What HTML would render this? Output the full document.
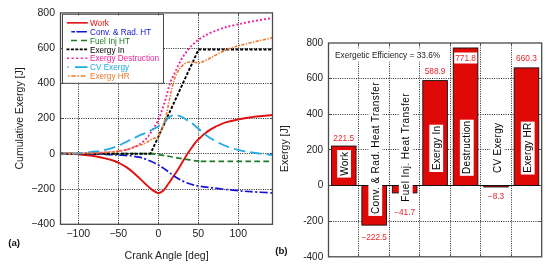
<!DOCTYPE html>
<html><head><meta charset="utf-8"><style>
html,body{margin:0;padding:0;background:#fff;width:550px;height:265px;overflow:hidden}
svg{display:block;will-change:transform;font-family:"Liberation Sans",sans-serif}
</style></head><body>
<svg width="550" height="265" viewBox="0 0 550 265">
<rect width="550" height="265" fill="#fff"/>
<g stroke="#262626" stroke-width="1" stroke-dasharray="1 1.3" fill="none">
<line x1="78.50" y1="12.90" x2="78.50" y2="224.30"/>
<line x1="118.50" y1="12.90" x2="118.50" y2="224.30"/>
<line x1="158.50" y1="12.90" x2="158.50" y2="224.30"/>
<line x1="198.50" y1="12.90" x2="198.50" y2="224.30"/>
<line x1="238.50" y1="12.90" x2="238.50" y2="224.30"/>
<line x1="60.50" y1="48.50" x2="272.50" y2="48.50"/>
<line x1="60.50" y1="83.50" x2="272.50" y2="83.50"/>
<line x1="60.50" y1="118.50" x2="272.50" y2="118.50"/>
<line x1="60.50" y1="153.50" x2="272.50" y2="153.50"/>
<line x1="60.50" y1="189.50" x2="272.50" y2="189.50"/>
</g>
<defs><clipPath id="cl"><rect x="60.50" y="12.90" width="212.00" height="211.40"/></clipPath></defs>
<g clip-path="url(#cl)" fill="none" stroke-linejoin="round">
<path d="M60.50,153.70 C62.08,153.72 67.08,153.72 70.00,153.80 C72.92,153.88 75.50,154.00 78.00,154.20 C80.50,154.40 82.17,154.65 85.00,155.00 C87.83,155.35 91.67,155.75 95.00,156.30 C98.33,156.85 101.75,157.52 105.00,158.30 C108.25,159.08 112.00,160.13 114.50,161.00 C117.00,161.87 117.97,162.43 120.00,163.50 C122.03,164.57 124.58,165.98 126.70,167.40 C128.82,168.82 130.42,170.05 132.70,172.00 C134.98,173.95 137.83,176.70 140.40,179.10 C142.97,181.50 145.97,184.48 148.10,186.40 C150.23,188.32 151.55,189.50 153.20,190.60 C154.85,191.70 156.53,192.83 158.00,193.00 C159.47,193.17 160.83,192.33 162.00,191.60 C163.17,190.87 164.00,189.82 165.00,188.60 C166.00,187.38 167.00,185.73 168.00,184.30 C169.00,182.87 170.00,181.45 171.00,180.00 C172.00,178.55 172.83,177.37 174.00,175.60 C175.17,173.83 176.83,171.27 178.00,169.40 C179.17,167.53 180.00,166.07 181.00,164.40 C182.00,162.73 182.83,161.30 184.00,159.40 C185.17,157.50 186.67,155.03 188.00,153.00 C189.33,150.97 190.50,149.27 192.00,147.20 C193.50,145.13 195.40,142.40 197.00,140.60 C198.60,138.80 200.27,137.58 201.60,136.40 C202.93,135.22 203.62,134.58 205.00,133.50 C206.38,132.42 208.40,130.90 209.90,129.90 C211.40,128.90 212.65,128.23 214.00,127.50 C215.35,126.77 215.92,126.38 218.00,125.50 C220.08,124.62 223.17,123.20 226.50,122.20 C229.83,121.20 233.85,120.33 238.00,119.50 C242.15,118.67 247.40,117.78 251.40,117.20 C255.40,116.62 258.48,116.37 262.00,116.00 C265.52,115.63 270.75,115.17 272.50,115.00" stroke="#e0100e" stroke-width="1.90"/>
<path d="M60.50,153.70 C67.08,153.75 92.58,153.90 100.00,154.00 C107.42,154.10 102.67,154.17 105.00,154.30 C107.33,154.43 111.50,154.67 114.00,154.80 C116.50,154.93 117.50,154.95 120.00,155.10 C122.50,155.25 125.83,155.37 129.00,155.70 C132.17,156.03 136.33,156.57 139.00,157.10 C141.67,157.63 142.83,158.12 145.00,158.90 C147.17,159.68 149.83,160.82 152.00,161.80 C154.17,162.78 156.33,163.88 158.00,164.80 C159.67,165.72 160.67,166.43 162.00,167.30 C163.33,168.17 164.67,169.07 166.00,170.00 C167.33,170.93 168.67,171.90 170.00,172.90 C171.33,173.90 172.33,174.87 174.00,176.00 C175.67,177.13 177.67,178.48 180.00,179.70 C182.33,180.92 185.50,182.35 188.00,183.30 C190.50,184.25 192.33,184.82 195.00,185.40 C197.67,185.98 201.17,186.40 204.00,186.80 C206.83,187.20 208.50,187.37 212.00,187.80 C215.50,188.23 220.67,188.92 225.00,189.40 C229.33,189.88 233.67,190.32 238.00,190.70 C242.33,191.08 245.25,191.33 251.00,191.70 C256.75,192.07 268.92,192.70 272.50,192.90" stroke="#1414d6" stroke-width="1.70" stroke-dasharray="8 2.4 2 2.4"/>
<path d="M60.50,153.70 C75.08,153.70 132.75,153.67 148.00,153.70 C163.25,153.73 150.33,153.77 152.00,153.90 C153.67,154.03 156.00,154.23 158.00,154.50 C160.00,154.77 162.00,155.17 164.00,155.50 C166.00,155.83 167.83,156.12 170.00,156.50 C172.17,156.88 174.50,157.37 177.00,157.80 C179.50,158.23 182.33,158.65 185.00,159.10 C187.67,159.55 190.50,160.15 193.00,160.50 C195.50,160.85 197.83,161.07 200.00,161.20 C202.17,161.33 193.92,161.28 206.00,161.30 C218.08,161.32 261.42,161.30 272.50,161.30" stroke="#1d7a26" stroke-width="1.70" stroke-dasharray="5.6 3.3" stroke-dashoffset="1.50"/>
<path d="M60.50,153.70 L150.50,153.70 L198.50,49.50 L272.50,49.50" stroke="#000" stroke-width="1.90" stroke-dasharray="3 1.65"/>
<path d="M60.50,153.70 C63.75,153.67 73.42,153.65 80.00,153.50 C86.58,153.35 95.00,153.03 100.00,152.80 C105.00,152.57 106.83,152.38 110.00,152.10 C113.17,151.82 116.67,151.40 119.00,151.10 C121.33,150.80 122.17,150.67 124.00,150.30 C125.83,149.93 128.17,149.45 130.00,148.90 C131.83,148.35 133.50,147.72 135.00,147.00 C136.50,146.28 137.67,145.47 139.00,144.60 C140.33,143.73 141.83,142.73 143.00,141.80 C144.17,140.87 145.08,139.97 146.00,139.00 C146.92,138.03 147.67,137.12 148.50,136.00 C149.33,134.88 150.25,133.43 151.00,132.30 C151.75,131.17 152.33,130.25 153.00,129.20 C153.67,128.15 154.33,127.07 155.00,126.00 C155.67,124.93 156.38,123.88 157.00,122.80 C157.62,121.72 158.20,120.63 158.70,119.50 C159.20,118.37 159.53,117.33 160.00,116.00 C160.47,114.67 161.00,112.97 161.50,111.50 C162.00,110.03 162.48,108.70 163.00,107.20 C163.52,105.70 164.10,104.12 164.60,102.50 C165.10,100.88 165.55,99.08 166.00,97.50 C166.45,95.92 166.87,94.58 167.30,93.00 C167.73,91.42 168.15,89.58 168.60,88.00 C169.05,86.42 169.52,84.93 170.00,83.50 C170.48,82.07 170.92,80.77 171.50,79.40 C172.08,78.03 172.83,76.65 173.50,75.30 C174.17,73.95 174.83,72.68 175.50,71.30 C176.17,69.92 176.58,68.88 177.50,67.00 C178.42,65.12 180.00,61.83 181.00,60.00 C182.00,58.17 182.67,57.25 183.50,56.00 C184.33,54.75 185.17,53.63 186.00,52.50 C186.83,51.37 187.67,50.23 188.50,49.20 C189.33,48.17 190.08,47.25 191.00,46.30 C191.92,45.35 192.97,44.43 194.00,43.50 C195.03,42.57 195.57,41.90 197.20,40.70 C198.83,39.50 201.23,37.77 203.80,36.30 C206.37,34.83 209.17,33.35 212.60,31.90 C216.03,30.45 220.23,28.85 224.40,27.60 C228.57,26.35 232.70,25.48 237.60,24.40 C242.50,23.32 247.98,22.17 253.80,21.10 C259.62,20.03 269.38,18.52 272.50,18.00" stroke="#f0209a" stroke-width="1.90" stroke-dasharray="1.9 2.1"/>
<path d="M60.50,153.70 C62.58,153.68 69.75,153.68 73.00,153.60 C76.25,153.52 77.67,153.38 80.00,153.20 C82.33,153.02 84.33,152.78 87.00,152.50 C89.67,152.22 93.33,151.85 96.00,151.50 C98.67,151.15 100.33,150.97 103.00,150.40 C105.67,149.83 109.50,148.87 112.00,148.10 C114.50,147.33 115.83,146.73 118.00,145.80 C120.17,144.87 122.67,143.63 125.00,142.50 C127.33,141.37 129.67,140.15 132.00,139.00 C134.33,137.85 136.67,136.63 139.00,135.60 C141.33,134.57 144.00,133.70 146.00,132.80 C148.00,131.90 149.33,131.03 151.00,130.20 C152.67,129.37 154.33,128.70 156.00,127.80 C157.67,126.90 159.50,125.80 161.00,124.80 C162.50,123.80 163.75,122.97 165.00,121.80 C166.25,120.63 167.17,118.87 168.50,117.80 C169.83,116.73 171.42,115.77 173.00,115.40 C174.58,115.03 176.50,115.33 178.00,115.60 C179.50,115.87 180.67,116.37 182.00,117.00 C183.33,117.63 184.17,118.23 186.00,119.40 C187.83,120.57 190.40,122.00 193.00,124.00 C195.60,126.00 199.33,129.47 201.60,131.40 C203.87,133.33 205.03,134.40 206.60,135.60 C208.17,136.80 209.07,137.45 211.00,138.60 C212.93,139.75 215.33,141.12 218.20,142.50 C221.07,143.88 224.60,145.60 228.20,146.90 C231.80,148.20 235.93,149.38 239.80,150.30 C243.67,151.22 247.70,151.82 251.40,152.40 C255.10,152.98 258.48,153.37 262.00,153.80 C265.52,154.23 270.75,154.80 272.50,155.00" stroke="#22aae6" stroke-width="1.80" stroke-dasharray="11.5 5" stroke-dashoffset="5.60"/>
<path d="M60.50,153.70 C63.75,153.67 73.42,153.68 80.00,153.50 C86.58,153.32 94.67,152.85 100.00,152.60 C105.33,152.35 108.67,152.28 112.00,152.00 C115.33,151.72 117.33,151.37 120.00,150.90 C122.67,150.43 125.50,149.92 128.00,149.20 C130.50,148.48 132.83,147.33 135.00,146.60 C137.17,145.87 139.33,145.33 141.00,144.80 C142.67,144.27 143.50,144.15 145.00,143.40 C146.50,142.65 148.50,141.17 150.00,140.30 C151.50,139.43 152.80,138.57 154.00,138.20 C155.20,137.83 156.27,138.77 157.20,138.10 C158.13,137.43 158.87,135.72 159.60,134.20 C160.33,132.68 160.95,130.70 161.60,129.00 C162.25,127.30 162.90,125.67 163.50,124.00 C164.10,122.33 164.68,120.75 165.20,119.00 C165.72,117.25 166.17,115.33 166.60,113.50 C167.03,111.67 167.37,110.08 167.80,108.00 C168.23,105.92 168.77,103.08 169.20,101.00 C169.63,98.92 170.02,97.33 170.40,95.50 C170.78,93.67 171.13,91.67 171.50,90.00 C171.87,88.33 172.18,87.17 172.60,85.50 C173.02,83.83 173.43,81.75 174.00,80.00 C174.57,78.25 175.28,76.57 176.00,75.00 C176.72,73.43 177.55,71.82 178.30,70.60 C179.05,69.38 179.63,68.70 180.50,67.70 C181.37,66.70 182.42,65.45 183.50,64.60 C184.58,63.75 185.67,63.05 187.00,62.60 C188.33,62.15 190.00,61.92 191.50,61.90 C193.00,61.88 194.67,62.33 196.00,62.50 C197.33,62.67 198.33,63.05 199.50,62.90 C200.67,62.75 201.58,62.22 203.00,61.60 C204.42,60.98 206.33,60.03 208.00,59.20 C209.67,58.37 211.17,57.58 213.00,56.60 C214.83,55.62 217.10,54.28 219.00,53.30 C220.90,52.32 222.40,51.57 224.40,50.70 C226.40,49.83 228.55,48.95 231.00,48.10 C233.45,47.25 235.30,46.62 239.10,45.60 C242.90,44.58 248.23,43.32 253.80,42.00 C259.37,40.68 269.38,38.42 272.50,37.70" stroke="#f07828" stroke-width="1.60" stroke-dasharray="3.2 1.4 1.3 1.4"/>
</g>
<rect x="62.5" y="14.3" width="101" height="69" fill="#fff" stroke="#4a4a4a" stroke-width="1"/>
<line x1="66.80" y1="22.85" x2="87.80" y2="22.85" stroke="#e0100e" stroke-width="1.6"/>
<text x="90" y="25.95" fill="#e0100e" font-size="8.2">Work</text>
<line x1="71.30" y1="31.70" x2="87.80" y2="31.70" stroke="#1414d6" stroke-width="1.6" stroke-dasharray="3.7 1.4 10.5 1.4"/>
<text x="90" y="34.80" fill="#1414d6" font-size="8.2">Conv. &amp; Rad. HT</text>
<line x1="71.00" y1="40.55" x2="87.80" y2="40.55" stroke="#1d7a26" stroke-width="1.6" stroke-dasharray="6 4"/>
<text x="90" y="43.65" fill="#1d7a26" font-size="8.2">Fuel Inj HT</text>
<line x1="66.50" y1="49.40" x2="88.40" y2="49.40" stroke="#000" stroke-width="1.6" stroke-dasharray="3 1.4"/>
<text x="90" y="52.50" fill="#000" font-size="8.2">Exergy In</text>
<line x1="67.00" y1="58.25" x2="87.80" y2="58.25" stroke="#f0209a" stroke-width="1.6" stroke-dasharray="2 2.6"/>
<text x="90" y="61.35" fill="#f0209a" font-size="8.2">Exergy Destruction</text>
<line x1="67.30" y1="67.10" x2="87.80" y2="67.10" stroke="#22aae6" stroke-width="1.6" stroke-dasharray="1.2 6.5 12.5 6"/>
<text x="90" y="70.20" fill="#22aae6" font-size="8.2">CV Exergy</text>
<line x1="68.00" y1="75.95" x2="85.30" y2="75.95" stroke="#f07828" stroke-width="1.6" stroke-dasharray="1.6 1.7 4.6 1.5"/>
<text x="90" y="79.05" fill="#f07828" font-size="8.2">Exergy HR</text>
<rect x="60.50" y="12.90" width="212.00" height="211.40" fill="none" stroke="#4a4a4a" stroke-width="1.3"/>
<path d="M78.50,12.90v2.5M78.50,224.30v-2.5M118.50,12.90v2.5M118.50,224.30v-2.5M158.50,12.90v2.5M158.50,224.30v-2.5M198.50,12.90v2.5M198.50,224.30v-2.5M238.50,12.90v2.5M238.50,224.30v-2.5M60.50,48.50h2.5M272.50,48.50h-2.5M60.50,83.50h2.5M272.50,83.50h-2.5M60.50,118.50h2.5M272.50,118.50h-2.5M60.50,153.50h2.5M272.50,153.50h-2.5M60.50,189.50h2.5M272.50,189.50h-2.5" stroke="#4a4a4a" stroke-width="1" fill="none"/>
<text x="55" y="15.64" text-anchor="end" font-size="10.5" fill="#222">800</text>
<text x="55" y="50.88" text-anchor="end" font-size="10.5" fill="#222">600</text>
<text x="55" y="86.12" text-anchor="end" font-size="10.5" fill="#222">400</text>
<text x="55" y="121.36" text-anchor="end" font-size="10.5" fill="#222">200</text>
<text x="55" y="156.60" text-anchor="end" font-size="10.5" fill="#222">0</text>
<text x="55" y="191.84" text-anchor="end" font-size="10.5" fill="#222">−200</text>
<text x="55" y="227.08" text-anchor="end" font-size="10.5" fill="#222">−400</text>
<text x="78.30" y="236.6" text-anchor="middle" font-size="10.5" fill="#222">−100</text>
<text x="118.30" y="236.6" text-anchor="middle" font-size="10.5" fill="#222">−50</text>
<text x="158.30" y="236.6" text-anchor="middle" font-size="10.5" fill="#222">0</text>
<text x="198.30" y="236.6" text-anchor="middle" font-size="10.5" fill="#222">50</text>
<text x="238.30" y="236.6" text-anchor="middle" font-size="10.5" fill="#222">100</text>
<text x="166.6" y="259.4" text-anchor="middle" font-size="10.6" fill="#222">Crank Angle [deg]</text>
<text transform="translate(22.6,118.4) rotate(-90)" text-anchor="middle" font-size="10.5" fill="#222">Cumulative Exergy [J]</text>
<text x="8.2" y="246.1" font-size="9.7" font-weight="bold" fill="#111">(a)</text>
<g stroke="#262626" stroke-width="1" stroke-dasharray="1 1.3" fill="none">
<line x1="358.50" y1="43.00" x2="358.50" y2="256.80"/>
<line x1="389.50" y1="43.00" x2="389.50" y2="256.80"/>
<line x1="419.50" y1="43.00" x2="419.50" y2="256.80"/>
<line x1="450.50" y1="43.00" x2="450.50" y2="256.80"/>
<line x1="480.50" y1="43.00" x2="480.50" y2="256.80"/>
<line x1="511.50" y1="43.00" x2="511.50" y2="256.80"/>
<line x1="328.50" y1="78.50" x2="541.70" y2="78.50"/>
<line x1="328.50" y1="114.50" x2="541.70" y2="114.50"/>
<line x1="328.50" y1="149.50" x2="541.70" y2="149.50"/>
<line x1="328.50" y1="221.50" x2="541.70" y2="221.50"/>
</g>
<rect x="331.43" y="146.04" width="24.60" height="39.46" fill="#de0806" stroke="#111" stroke-width="0.9"/>
<rect x="361.89" y="185.50" width="24.60" height="39.64" fill="#de0806" stroke="#111" stroke-width="0.9"/>
<rect x="392.34" y="185.50" width="24.60" height="7.43" fill="#de0806" stroke="#111" stroke-width="0.9"/>
<rect x="422.80" y="80.58" width="24.60" height="104.92" fill="#de0806" stroke="#111" stroke-width="0.9"/>
<rect x="453.26" y="47.99" width="24.60" height="137.51" fill="#de0806" stroke="#111" stroke-width="0.9"/>
<rect x="483.71" y="185.50" width="24.60" height="1.48" fill="#de0806" stroke="#111" stroke-width="0.9"/>
<rect x="514.17" y="67.86" width="24.60" height="117.64" fill="#de0806" stroke="#111" stroke-width="0.9"/>
<line x1="328.50" y1="185.50" x2="541.70" y2="185.50" stroke="#111" stroke-width="1.1"/>
<rect x="337.18" y="150.10" width="13.8" height="27.50" fill="#fff"/>
<text transform="translate(344.28,163.90) rotate(-90)" x="0" y="3.58" text-anchor="middle" font-size="10.00" textLength="23.60" lengthAdjust="spacing" fill="#000">Work</text>
<rect x="368.39" y="81.30" width="13.8" height="134.60" fill="#fff"/>
<text transform="translate(374.99,148.25) rotate(-90)" x="0" y="3.58" text-anchor="middle" font-size="10.00" textLength="131.50" lengthAdjust="spacing" fill="#000">Conv. &amp; Rad. Heat Transfer</text>
<rect x="398.84" y="92.30" width="13.8" height="111.40" fill="#fff"/>
<text transform="translate(405.44,147.65) rotate(-90)" x="0" y="3.58" text-anchor="middle" font-size="10.00" textLength="108.30" lengthAdjust="spacing" fill="#000">Fuel Inj. Heat Transfer</text>
<rect x="429.35" y="124.70" width="13.8" height="47.30" fill="#fff"/>
<text transform="translate(435.95,148.00) rotate(-90)" x="0" y="3.58" text-anchor="middle" font-size="10.00" textLength="44.20" lengthAdjust="spacing" fill="#000">Exergy In</text>
<rect x="459.86" y="119.70" width="13.8" height="56.10" fill="#fff"/>
<text transform="translate(466.46,147.40) rotate(-90)" x="0" y="3.58" text-anchor="middle" font-size="10.00" textLength="53.00" lengthAdjust="spacing" fill="#000">Destruction</text>
<rect x="490.31" y="121.70" width="13.8" height="53.30" fill="#fff"/>
<text transform="translate(496.91,148.00) rotate(-90)" x="0" y="3.58" text-anchor="middle" font-size="10.00" textLength="50.20" lengthAdjust="spacing" fill="#000">CV Exergy</text>
<rect x="520.82" y="121.65" width="13.8" height="52.90" fill="#fff"/>
<text transform="translate(527.42,147.75) rotate(-90)" x="0" y="3.58" text-anchor="middle" font-size="10.00" textLength="49.80" lengthAdjust="spacing" fill="#000">Exergy HR</text>
<text x="343.73" y="140.50" text-anchor="middle" font-size="8.3" fill="#e8262a">221.5</text>
<text x="374.19" y="239.50" text-anchor="middle" font-size="8.3" fill="#e8262a">−222.5</text>
<text x="404.64" y="215.00" text-anchor="middle" font-size="8.3" fill="#e8262a">−41.7</text>
<text x="435.10" y="73.60" text-anchor="middle" font-size="8.3" fill="#e8262a">588.9</text>
<rect x="454.2" y="52.5" width="23" height="11" fill="#fff"/>
<text x="465.56" y="61.00" text-anchor="middle" font-size="8.3" fill="#e8262a">771.8</text>
<text x="496.01" y="199.00" text-anchor="middle" font-size="8.3" fill="#e8262a">−8.3</text>
<text x="526.47" y="61.20" text-anchor="middle" font-size="8.3" fill="#e8262a">660.3</text>
<rect x="333" y="48.5" width="109" height="13" fill="#fff"/>
<text x="335" y="57.8" font-size="8.3" fill="#222">Exergetic Efficiency = 33.6%</text>
<rect x="328.50" y="43.00" width="213.20" height="213.80" fill="none" stroke="#4a4a4a" stroke-width="1.3"/>
<path d="M358.50,43.00v2.5M358.50,256.80v-2.5M389.50,43.00v2.5M389.50,256.80v-2.5M419.50,43.00v2.5M419.50,256.80v-2.5M450.50,43.00v2.5M450.50,256.80v-2.5M480.50,43.00v2.5M480.50,256.80v-2.5M511.50,43.00v2.5M511.50,256.80v-2.5M328.50,78.50h2.5M541.70,78.50h-2.5M328.50,114.50h2.5M541.70,114.50h-2.5M328.50,149.50h2.5M541.70,149.50h-2.5M328.50,185.50h2.5M541.70,185.50h-2.5M328.50,221.50h2.5M541.70,221.50h-2.5" stroke="#4a4a4a" stroke-width="1" fill="none"/>
<text x="323.2" y="45.77" text-anchor="end" font-size="10" fill="#222">800</text>
<text x="323.2" y="81.40" text-anchor="end" font-size="10" fill="#222">600</text>
<text x="323.2" y="117.03" text-anchor="end" font-size="10" fill="#222">400</text>
<text x="323.2" y="152.67" text-anchor="end" font-size="10" fill="#222">200</text>
<text x="323.2" y="188.30" text-anchor="end" font-size="10" fill="#222">0</text>
<text x="323.2" y="223.93" text-anchor="end" font-size="10" fill="#222">-200</text>
<text x="323.2" y="259.57" text-anchor="end" font-size="10" fill="#222">-400</text>
<text transform="translate(288,148.7) rotate(-90)" text-anchor="middle" font-size="10.5" fill="#222">Exergy [J]</text>
<text x="275.2" y="254.1" font-size="9.7" font-weight="bold" fill="#111">(b)</text>
</svg>
</body></html>
